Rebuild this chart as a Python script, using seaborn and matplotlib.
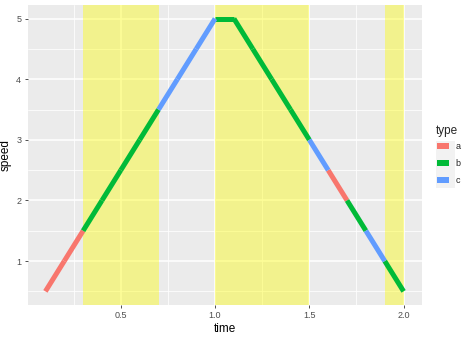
import numpy as np
import pandas as pd
import matplotlib
matplotlib.use("Agg")
import matplotlib.pyplot as plt
import seaborn as sns
from matplotlib.patches import Patch, Rectangle

time = [0.1, 0.2, 0.3, 0.4, 0.5, 0.6, 0.7, 0.8, 0.9, 1.0,
        1.1, 1.2, 1.3, 1.4, 1.5, 1.6, 1.7, 1.8, 1.9, 2.0]
speed = [0.5, 1.0, 1.5, 2.0, 2.5, 3.0, 3.5, 4.0, 4.5, 5.0,
         5.0, 4.5, 4.0, 3.5, 3.0, 2.5, 2.0, 1.5, 1.0, 0.5]
types = ["a", "a", "b", "b", "b", "b", "c", "c", "c", "b",
         "b", "b", "b", "b", "c", "a", "b", "c", "b", "b"]
shade_start = [0.3, 1.0, 1.9]
shade_end = [0.7, 1.5, 2.0]
categories = ["a", "b", "c"]
palette = {"a": "#F8766D", "b": "#00BA38", "c": "#619CFF"}

rows = []
for i in range(len(time) - 1):
    for j in (i, i + 1):
        rows.append({"time": time[j], "speed": speed[j], "type": types[i], "seg": i})
seg_df = pd.DataFrame(rows)

sns.set_theme(style="darkgrid")
plt.rcParams["font.family"] = ["Liberation Sans", "DejaVu Sans"]

fig = plt.figure(figsize=(4.74, 3.38), dpi=100)
ax = fig.add_axes([27.5 / 474, 1 - 305 / 338, (421.5 - 27.5) / 474, (305 - 5) / 338])
ax.set_facecolor("#EBEBEB")

xmin, xmax = min(time), max(time)
ymin, ymax = min(speed), max(speed)
xr, yr = xmax - xmin, ymax - ymin
ax.set_xlim(xmin - 0.05 * xr, xmax + 0.05 * xr)
ax.set_ylim(ymin - 0.05 * yr, ymax + 0.05 * yr)

ax.set_xticks([0.5, 1.0, 1.5, 2.0])
ax.set_xticks([0.25, 0.75, 1.25, 1.75], minor=True)
ax.set_yticks([1, 2, 3, 4, 5])
ax.set_yticks([0.5, 1.5, 2.5, 3.5, 4.5], minor=True)
ax.grid(which="major", color="white", linewidth=1.1)
ax.grid(which="minor", color="white", linewidth=0.55)
ax.set_axisbelow(True)

for s, e in zip(shade_start, shade_end):
    ax.axvspan(s, e, color="yellow", alpha=0.4, linewidth=0, zorder=1)

sns.lineplot(data=seg_df, x="time", y="speed", hue="type", units="seg",
             estimator=None, sort=False, palette=palette, linewidth=3.6,
             legend=False, ax=ax, zorder=3)
for ln in ax.lines:
    ln.set_solid_capstyle("butt")

for sp in ax.spines.values():
    sp.set_visible(False)

ax.tick_params(axis="both", which="major", length=2.5, width=0.6, color="#333333",
               labelsize=6.5, labelcolor="#4D4D4D", pad=2, bottom=True, left=True)
ax.tick_params(which="minor", length=0)
ax.set_xticklabels(["0.5", "1.0", "1.5", "2.0"])
ax.set_yticklabels(["1", "2", "3", "4", "5"])
ax.set_xlabel("time", fontsize=8.5, color="black", labelpad=2)
ax.set_ylabel("speed", fontsize=8.5, color="black", labelpad=3)

# faint legend key background
fig.patches.append(Rectangle((436 / 474, 1 - 188 / 338), 19 / 474, 47 / 338,
                             transform=fig.transFigure, facecolor="#F2F2F2",
                             edgecolor="none", zorder=0))

fig.text(436 / 474, 1 - 131 / 338, "type", fontsize=8.5, ha="left", va="center")
handles = [Patch(facecolor=palette[c], edgecolor="none", label=c) for c in categories]
leg = fig.legend(handles=handles, loc="upper left",
                 bbox_to_anchor=(429 / 474, 1 - 134 / 338), frameon=False,
                 fontsize=6.5, handlelength=1.3, handleheight=0.6,
                 handletextpad=0.7, labelspacing=0.88)

fig.savefig("out.png", dpi=100)
